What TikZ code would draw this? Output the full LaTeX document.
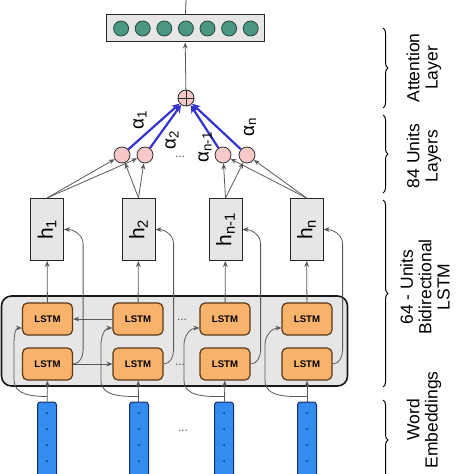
\documentclass[tikz,border=0pt]{standalone}
\usepackage{fontspec}
\setmainfont{Liberation Sans}
\usetikzlibrary{arrows.meta,calc,decorations.pathreplacing}
\definecolor{tealc}{RGB}{74,152,132}
\definecolor{teald}{RGB}{36,70,62}
\definecolor{pinkc}{RGB}{248,200,200}
\definecolor{boxg}{RGB}{230,230,230}
\definecolor{lstmc}{RGB}{247,178,107}
\definecolor{lstmd}{RGB}{92,56,26}
\definecolor{embc}{RGB}{52,140,240}
\definecolor{embd}{RGB}{22,46,92}
\definecolor{attc}{RGB}{52,52,204}
\begin{document}
\begin{tikzpicture}[x=0.5pt,y=-0.5pt,
  link/.style={draw=gray!70!black, line width=0.4pt, -{Stealth[length=3pt,width=2.4pt]}},
  attn/.style={draw=attc, line width=1.1pt, -{Stealth[length=4pt,width=4pt]}},
  unit/.style={circle, draw=gray!40!black, fill=pinkc, line width=0.4pt, minimum size=8pt, inner sep=0pt},
  outunit/.style={circle, draw=teald, fill=tealc, line width=0.4pt, minimum size=7.5pt, inner sep=0pt},
  hbox/.style={draw=gray!30!black, fill=boxg, line width=0.5pt, minimum width=16.5pt, minimum height=31pt, inner sep=0pt},
  hlab/.style={rotate=90, font=\fontsize{10.5}{10.5}\selectfont},
  cell/.style={draw=lstmd, fill=lstmc, rounded corners=2.5pt, line width=0.6pt, minimum width=25pt, minimum height=16pt, inner sep=0pt, font=\bfseries\fontsize{4.8}{5}\selectfont},
  emb/.style={draw=embd, fill=embc, rounded corners=1.5pt, line width=0.5pt, minimum width=9.5pt, minimum height=40pt, inner sep=0pt},
  alab/.style={rotate=90, font=\fontsize{9.5}{9.5}\selectfont},
  brc/.style={decorate, decoration={brace,amplitude=2.5pt}, line width=0.5pt},
  side/.style={rotate=90, align=center, font=\fontsize{8.75}{9.2}\selectfont},
  dots/.style={font=\fontsize{6}{6}\selectfont, text=gray!60!black}
]
\clip (0,0) rectangle (474,474);

% output layer
\coordinate (top) at (186,0);
\node[draw=gray!30!black, fill=boxg, line width=0.5pt, minimum width=79pt, minimum height=13.5pt, inner sep=0pt] (out) at (185,28.5) {};
\foreach \i in {1,...,7}
  \node[outunit] (o\i) at ({99.5+21.6*\i},28.5) {};
\draw[gray!60!black, line width=0.4pt] (top) -- (out);

% attention
\node[unit, draw=gray!30!black] (sum) at (186,98) {};
\draw[gray!30!black, line width=0.4pt] (sum.north) -- (sum.south) (sum.west) -- (sum.east);
\draw[link] (sum) -- (out);
\node[unit] (a1) at (122,155) {};
\node[unit] (a2) at (145,155) {};
\node[unit] (a3) at (223,155) {};
\node[unit] (a4) at (247,155) {};
\foreach \i in {1,...,4}
  \draw[attn] (a\i) -- (sum);
\node[alab] (al1) at (140,120) {α\textsubscript{1}};
\node[alab] (al2) at (172,140) {α\textsubscript{2}};
\node[alab] (al3) at (205,147) {α\textsubscript{n-1}};
\node[alab] (al4) at (250,127) {α\textsubscript{n}};
\node[dots] (d1) at (180,157) {...};

% hidden states
\node[hbox, label={[hlab]center:h\textsubscript{1}}] (h1) at (47,229.5) {};
\node[hbox, label={[hlab]center:h\textsubscript{2}}] (h2) at (138.5,229.5) {};
\node[hbox, label={[hlab]center:h\textsubscript{n-1}}] (h3) at (225.5,229.5) {};
\node[hbox, label={[hlab]center:h\textsubscript{n}}] (h4) at (306.5,229.5) {};
\draw[link] (h1.north) -- (a1);
\draw[link] (h1.north) -- (a2);
\draw[link] (h2.north) -- (a1);
\draw[link] (h2.north) -- (a2);
\draw[link] (h3.north) -- (a3);
\draw[link] (h3.north) -- (a4);
\draw[link] (h4.north) -- (a3);
\draw[link] (h4.north) -- (a4);

% bidirectional lstm
\node[draw=gray!20!black, fill=boxg, rounded corners=5pt, line width=0.8pt, minimum width=173pt, minimum height=45pt, inner sep=0pt] (bilstm) at (174.5,341) {};
\node[cell] (t1) at (47.5,319) {LSTM};
\node[cell] (t2) at (138,319) {LSTM};
\node[cell] (t3) at (225,319) {LSTM};
\node[cell] (t4) at (307,319) {LSTM};
\node[cell] (b1) at (47.5,364) {LSTM};
\node[cell] (b2) at (138,364) {LSTM};
\node[cell] (b3) at (225,364) {LSTM};
\node[cell] (b4) at (307,364) {LSTM};
\node[dots] (d2) at (182,320) {...};
\node[dots] (d3) at (180,365) {...};
\draw[link] (t2) -- (t1);
\draw[link] (b1) -- (b2);

% word embeddings
\node[emb] (e1) at (47,442) {};
\node[emb] (e2) at (139,442) {};
\node[emb] (e3) at (224,442) {};
\node[emb] (e4) at (307,442) {};
\node[dots] (d4) at (183,431) {...};
\foreach \i in {1,...,4}
  \foreach \y in {413,429,445,461}
    \fill[embd] (e\i.center |- 0,\y) circle (0.5pt);

% flows
\foreach \i/\dx in {1/33,2/38,3/40,4/42} {
  \draw[link] (e\i) -- (b\i);
  \draw[link] ($(e\i.north)+(0,-5)$) to[out=180,in=-90] ++(-\dx,-16) -- ++(0,-36) to[out=90,in=180] ($(t\i.west)+(0,9)$);
  \draw[link] (t\i) -- (h\i);
  \draw[link] (b\i.east) to[out=0,in=-90] ++(10,-14) -- ++(0,-106) to[out=90,in=0] (h\i.east);
}

% layer braces
\draw[brc] (383,28) -- (383,108);
\draw[brc] (383,115) -- (383,193);
\draw[brc] (383,200) -- (383,387);
\draw[brc] (383,400) -- (383,480);
\node[side] (s1) at (424,68) {Attention\\Layer};
\node[side] (s2) at (424,156) {84 Units\\Layers};
\node[side] (s3) at (425,287) {64 - Units\\Bidirectional\\LSTM};
\node[side] (s4) at (424,420) {Word\\Embeddings};
\end{tikzpicture}
\end{document}
